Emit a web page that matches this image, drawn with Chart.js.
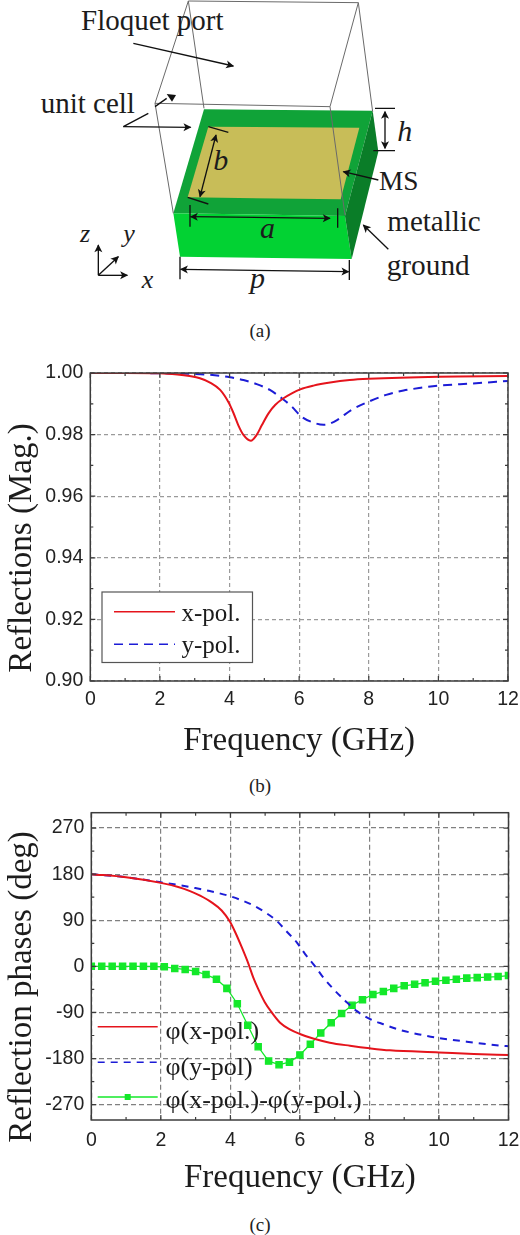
<!DOCTYPE html>
<html>
<head>
<meta charset="utf-8">
<title>Reflection of the unit cell</title>
<script src="https://cdn.jsdelivr.net/npm/chart.js@4/dist/chart.umd.min.js"></script>
<style>
  html, body { margin: 0; padding: 0; background: #fff; }
  #page { position: relative; width: 520px; height: 1235px; overflow: hidden; }
  #page canvas, #cell { position: absolute; left: 0; }
  .caption { position: absolute; left: 0; width: 520px; text-align: center; font: 19px "Liberation Serif", serif; color: #222; }
  #cell text { font-family: "Liberation Serif", serif; fill: #1c1c1c; }
  #cell .it { font-style: italic; }
</style>
</head>
<body>
<div id="page">
  <!-- unit cell sketch, in a 3x coordinate system -->
  <svg id="cell" style="top:0" width="520" height="340" viewBox="0 0 1560 1020">
    <defs>
      <marker id="head" viewBox="0 0 10 10" refX="9" refY="5" markerWidth="9" markerHeight="8" markerUnits="userSpaceOnUse" orient="auto-start-reverse" overflow="visible">
        <path d="M0 0 L10 5 L0 10 L2.5 5 Z" fill="#111" transform="scale(3)" transform-origin="9 5"/>
      </marker>
    </defs>
    <polygon points="612,328 1118,332 1035,648 520,640" fill="#10a338"/>
    <polygon points="625,380 1078,383 1022,598 563,592" fill="#c8bd58"/>
    <polygon points="520,640 1035,648 1055,777 540,770" fill="#02d233"/>
    <polygon points="1118,332 1135,455 1055,777 1035,648" fill="#0a7d28"/>
    <g fill="none" stroke="#6a6a6a" stroke-width="3">
      <path d="M565 3 L1075 8 L990 320 L465 310 Z"/>
      <path d="M565 3 L612 325 M1075 8 L1118 335 M465 310 L520 640 M990 320 L1035 645"/>
    </g>
    <g fill="none" stroke="#111" stroke-width="4">
      <path d="M400 130 L700 198" marker-end="url(#head)"/>
      <path d="M370 380 L572 382" marker-end="url(#head)"/>
      <path d="M370 380 L445 340 M465 320 L500 295"/>
      <path d="M648 405 L600 590" marker-start="url(#head)" marker-end="url(#head)"/>
      <path d="M625 380 L685 397 M563 592 L625 612"/>
      <path d="M572 650 L990 655" marker-start="url(#head)" marker-end="url(#head)"/>
      <path d="M570 615 L570 680 M1013 625 L1013 683"/>
      <path d="M542 808 L1046 815" marker-start="url(#head)" marker-end="url(#head)"/>
      <path d="M540 770 L540 838 M1048 780 L1048 840"/>
      <path d="M1155 335 L1155 445" marker-start="url(#head)" marker-end="url(#head)"/>
      <path d="M1125 325 L1185 325 M1120 452 L1185 452"/>
      <path d="M1135 540 L1030 515" marker-end="url(#head)"/>
      <path d="M1165 748 L1090 675" marker-end="url(#head)"/>
      <path d="M295 826 L295 735" marker-end="url(#head)"/>
      <path d="M295 826 L355 770" marker-end="url(#head)"/>
      <path d="M295 826 L382 826" marker-end="url(#head)"/>
    </g>
    <polygon points="500,282 528,285 516,305" fill="#111"/>
    <text x="243" y="90" font-size="87">Floquet port</text>
    <text x="122" y="338" font-size="87">unit cell</text>
    <text x="1137" y="570" font-size="82">MS</text>
    <text x="1162" y="693" font-size="87">metallic</text>
    <text x="1160" y="825" font-size="88">ground</text>
    <text class="it" x="1192" y="422" font-size="90">h</text>
    <text class="it" x="640" y="510" font-size="90">b</text>
    <text class="it" x="780" y="715" font-size="90">a</text>
    <text class="it" x="750" y="865" font-size="90">p</text>
    <text class="it" x="240" y="725" font-size="78">z</text>
    <text class="it" x="370" y="725" font-size="78">y</text>
    <text class="it" x="425" y="865" font-size="78">x</text>
  </svg>
  <div class="caption" style="top:320px">(a)</div>
  <canvas id="magChart" width="520" height="420" style="top:350px"></canvas>
  <div class="caption" style="top:775px">(b)</div>
  <canvas id="phaseChart" width="520" height="417" style="top:790px"></canvas>
  <div class="caption" style="top:1214px">(c)</div>
</div>

<script>
// frequency axis, shared by both plots
const freqTicks = [0, 2, 4, 6, 8, 10, 12];
const freqMinor = [1, 3, 5, 7, 9, 11];

// reflection magnitude
const magTicks = [0.90, 0.92, 0.94, 0.96, 0.98, 1.00];
const magMinor = [0.91, 0.93, 0.95, 0.97, 0.99];
const magFreqX = [0, 1, 2, 2.5, 2.85, 3.15, 3.44, 3.73, 3.97, 4.11, 4.25, 4.4, 4.61, 4.78, 4.93, 5.12, 5.31, 5.55, 5.79, 6.03, 6.41, 6.89, 7.45, 8, 10, 12];
const magX = [1, 1, 0.9999, 0.9995, 0.999, 0.9983, 0.9969, 0.9945, 0.9905, 0.9871, 0.9831, 0.9799, 0.978, 0.9799, 0.9831, 0.9869, 0.9896, 0.9918, 0.9934, 0.9947, 0.9959, 0.9969, 0.9977, 0.9981, 0.9988, 0.999];
const magFreqY = [0, 1, 2, 3, 3.44, 4.01, 4.4, 4.78, 5.16, 5.5, 5.79, 6.07, 6.46, 6.7, 6.84, 7.1, 7.5, 8, 8.5, 9, 9.5, 10, 11, 12];
const magY = [1, 1, 0.9999, 0.9997, 0.9994, 0.9986, 0.9977, 0.9964, 0.9945, 0.9918, 0.9891, 0.9858, 0.9837, 0.9832, 0.9834, 0.9848, 0.988, 0.9907, 0.9929, 0.9943, 0.9952, 0.9959, 0.9966, 0.9974];

// reflection phases
const phaseTicks = [-270, -180, -90, 0, 90, 180, 270];
const phaseMinor = [-225, -135, -45, 45, 135, 225];
const phaseFreqX = [0, 1, 2, 2.5, 2.84, 3.13, 3.46, 3.75, 3.99, 4.13, 4.33, 4.52, 4.66, 4.8, 4.99, 5.19, 5.43, 5.71, 6, 6.38, 6.86, 7.44, 8.01, 8.59, 10, 11, 12];
const phaseX = [180, 174, 163, 155, 147, 138, 125, 109, 87, 68, 37, 5, -22, -44, -70, -90, -110, -123, -132, -141, -149, -155, -160, -164, -168, -171, -173];
const phaseFreqY = [0, 1, 2, 2.5, 2.98, 3.41, 3.94, 4.28, 4.66, 4.99, 5.33, 5.62, 5.91, 6.15, 6.46, 6.63, 6.96, 7.3, 7.63, 8.02, 8.4, 8.87, 9.44, 10, 10.8, 11.8, 12];
const phaseY = [180, 174, 164, 159, 153, 147, 138, 130, 119, 106, 89, 68, 47, 24, -2, -18, -44, -67, -87, -103, -113, -124, -133, -140, -147, -155, -156];
const diffFreq = [0, 0.3, 0.6, 0.9, 1.2, 1.5, 1.8, 2.1, 2.4, 2.7, 3, 3.3, 3.6, 3.9, 4.2, 4.5, 4.8, 5.1, 5.4, 5.7, 6, 6.3, 6.6, 6.9, 7.2, 7.5, 7.8, 8.1, 8.4, 8.7, 9, 9.3, 9.6, 9.9, 10.2, 10.5, 10.8, 11.1, 11.4, 11.7, 12];
const phaseDiff = [0, 0, 0, 0, 0, 0, 0, -1, -4, -6, -10, -16, -25, -43, -73, -115, -157, -185, -192, -187, -173, -152, -130, -110, -92, -76, -65, -55, -49, -43, -38, -35, -32, -29, -27, -25, -23, -22, -21, -20, -18];

const RED = "#e5141c";
const BLUE = "#1c1cd6";
const GREEN = "#14e82a";
const TICK_FONT = { family: "'Liberation Sans', sans-serif", size: 19.5 };
const SERIF = "'Liberation Serif', serif";

function toPoints(xs, ys) {
  return xs.map((x, i) => ({ x: x, y: ys[i] }));
}

function curve(label, xs, ys, color, dash) {
  return {
    label: label,
    data: toPoints(xs, ys),
    borderColor: color,
    backgroundColor: color,
    borderWidth: 2,
    borderDash: dash || [],
    pointRadius: 0,
    cubicInterpolationMode: "monotone"
  };
}

// frame, inward ticks on all four sides, and the rotated y title
function framePlugin(opts) {
  return {
    id: "frame",
    afterDraw(chart) {
      const { ctx, chartArea: a, scales } = chart;
      ctx.save();
      ctx.strokeStyle = "#3c3c3c";
      ctx.lineWidth = 1.2;
      const mark = (values, len, horizontal) => {
        values.forEach(v => {
          ctx.beginPath();
          if (horizontal) {
            const px = scales.x.getPixelForValue(v);
            ctx.moveTo(px, a.bottom); ctx.lineTo(px, a.bottom - len);
            ctx.moveTo(px, a.top); ctx.lineTo(px, a.top + len);
          } else {
            const py = scales.y.getPixelForValue(v);
            ctx.moveTo(a.left, py); ctx.lineTo(a.left + len, py);
            ctx.moveTo(a.right, py); ctx.lineTo(a.right - len, py);
          }
          ctx.stroke();
        });
      };
      mark(freqTicks, 5, true);
      mark(freqMinor, 3, true);
      mark(opts.yTicks, 5, false);
      mark(opts.yMinor, 3, false);
      ctx.lineWidth = 1.5;
      ctx.strokeRect(a.left, a.top, a.right - a.left, a.bottom - a.top);

      ctx.translate(opts.titleX, opts.titleY);
      ctx.rotate(-Math.PI / 2);
      ctx.fillStyle = "#1c1c1c";
      ctx.font = "33px " + SERIF;
      ctx.textAlign = "center";
      ctx.textBaseline = "middle";
      ctx.fillText(opts.title, 0, 0);
      ctx.restore();
    }
  };
}

// legend placed inside the plot, labels and styles come from the datasets
function legendPlugin(opts) {
  return {
    id: "insideLegend",
    afterDatasetsDraw(chart) {
      const ctx = chart.ctx;
      ctx.save();
      if (opts.box) {
        ctx.fillStyle = "#fff";
        ctx.strokeStyle = "#555";
        ctx.lineWidth = 1.2;
        ctx.fillRect(opts.box.x, opts.box.y, opts.box.w, opts.box.h);
        ctx.strokeRect(opts.box.x, opts.box.y, opts.box.w, opts.box.h);
      }
      chart.data.datasets.forEach((ds, i) => {
        const y = opts.lineY[i];
        ctx.strokeStyle = ds.borderColor;
        ctx.lineWidth = 1.5;
        ctx.setLineDash(ds.borderDash || []);
        ctx.beginPath();
        ctx.moveTo(opts.x0, y);
        ctx.lineTo(opts.x1, y);
        ctx.stroke();
        ctx.setLineDash([]);
        if (ds.pointRadius > 0) {
          ctx.fillStyle = ds.backgroundColor;
          ctx.fillRect((opts.x0 + opts.x1) / 2 - 3, y - 3, 6, 6);
        }
        ctx.fillStyle = "#1c1c1c";
        ctx.font = opts.size + "px " + SERIF;
        ctx.textBaseline = "alphabetic";
        ctx.fillText(ds.label, opts.textX, opts.baseY[i]);
      });
      ctx.restore();
    }
  };
}

function makeChart(id, datasets, cfg) {
  const grid = { color: cfg.gridColor, lineWidth: 1.2, drawTicks: false };
  const border = { display: false, dash: cfg.gridDash };
  return new Chart(document.getElementById(id).getContext("2d"), {
    type: "line",
    data: { datasets: datasets },
    options: {
      responsive: false,
      animation: false,
      layout: { padding: { top: cfg.top, right: cfg.right, left: 0, bottom: 0 } },
      plugins: { legend: { display: false }, tooltip: { enabled: false } },
      scales: {
        x: {
          type: "linear",
          min: 0,
          max: 12,
          afterBuildTicks: axis => { axis.ticks = freqTicks.map(v => ({ value: v })); },
          afterFit: axis => {
            axis.height = cfg.xHeight;
            axis.paddingLeft = 0;
            axis.paddingRight = 0;
          },
          grid: grid,
          border: border,
          ticks: { font: TICK_FONT, color: "#222", padding: cfg.xPad, maxRotation: 0, autoSkip: false },
          title: {
            display: true,
            text: "Frequency (GHz)",
            color: "#1c1c1c",
            font: { family: SERIF, size: 33 },
            padding: { top: cfg.xTitlePad, bottom: cfg.xTitlePad }
          }
        },
        y: {
          min: cfg.yMin,
          max: cfg.yMax,
          afterBuildTicks: axis => { axis.ticks = cfg.yTicks.map(v => ({ value: v })); },
          afterFit: axis => {
            axis.width = cfg.left;
            axis.paddingTop = 0;
            axis.paddingBottom = 0;
          },
          grid: grid,
          border: border,
          ticks: { font: TICK_FONT, color: "#222", padding: 7, autoSkip: false, callback: cfg.yLabel }
        }
      }
    },
    plugins: [
      framePlugin({ yTicks: cfg.yTicks, yMinor: cfg.yMinor, title: cfg.yTitle, titleX: 22, titleY: cfg.yTitleAt }),
      legendPlugin(cfg.legend)
    ]
  });
}

makeChart("magChart", [
  curve("x-pol.", magFreqX, magX, RED),
  curve("y-pol.", magFreqY, magY, BLUE, [9, 6])
], {
  top: 23, right: 12, left: 90.3, xHeight: 89, xPad: 7, xTitlePad: 9,
  gridColor: "#9a9a9a", gridDash: [4, 3],
  yMin: 0.9, yMax: 1, yTicks: magTicks, yMinor: magMinor,
  yLabel: v => v.toFixed(2),
  yTitle: "Reflections (Mag.)", yTitleAt: 198,
  legend: {
    box: { x: 102, y: 592 - 350, w: 150.5, h: 70.5 },
    x0: 114, x1: 175, textX: 181.5, size: 25,
    lineY: [261.7, 294.3], baseY: [271, 303]
  }
});

const diffSeries = curve("φ(x-pol.)-φ(y-pol.)", diffFreq, phaseDiff, GREEN);
diffSeries.pointStyle = "rect";
diffSeries.pointRadius = 4.4;
diffSeries.borderWidth = 1.3;
diffSeries.cubicInterpolationMode = "default";

makeChart("phaseChart", [
  curve("φ(x-pol.)", phaseFreqX, phaseX, RED),
  curve("φ(y-pol)", phaseFreqY, phaseY, BLUE, [7, 6]),
  diffSeries
], {
  top: 22.7, right: 11.5, left: 91.3, xHeight: 87, xPad: 9, xTitlePad: 9,
  gridColor: "#808080", gridDash: [5, 3],
  yMin: -300, yMax: 300, yTicks: phaseTicks, yMinor: phaseMinor,
  yLabel: v => String(v),
  yTitle: "Reflection phases (deg)", yTitleAt: 197,
  legend: {
    x0: 97.7, x1: 157.7, textX: 165.5, size: 26,
    lineY: [236.7, 272.3, 307], baseY: [249, 285, 318]
  }
});
</script>
</body>
</html>
